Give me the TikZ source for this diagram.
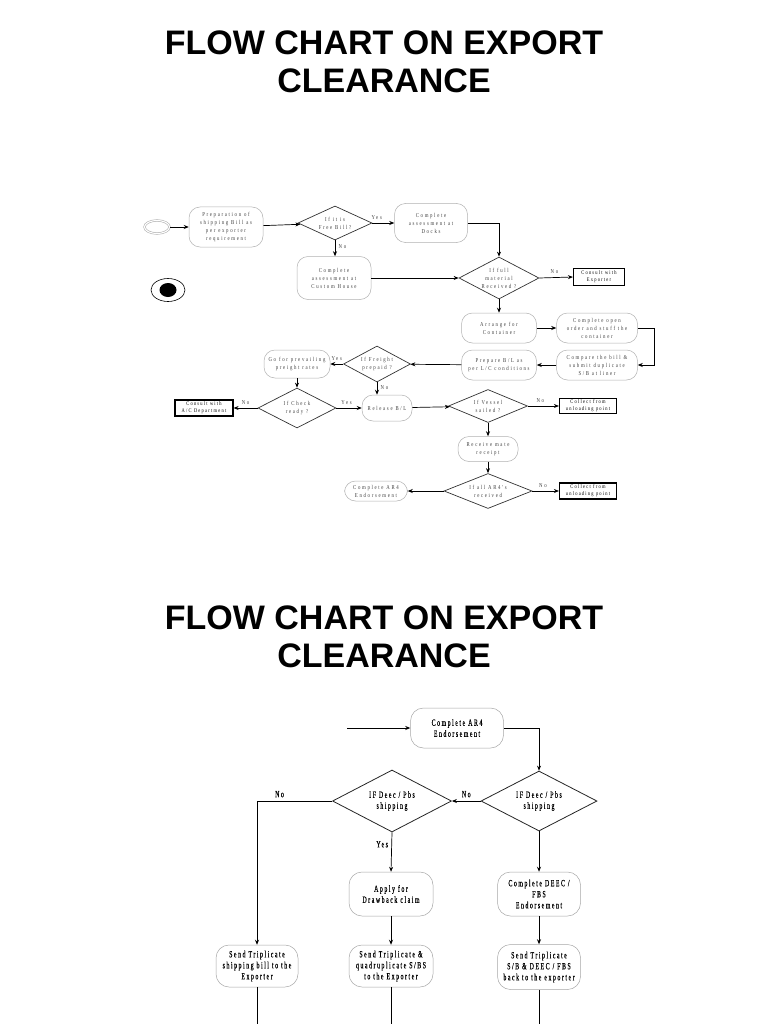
\documentclass[tikz,border=0pt]{standalone}
\usepackage{fontspec}
\setmainfont{Liberation Serif}
\newfontfamily\titlefont{Liberation Sans}
\newfontfamily\topfont[FakeStretch=0.8,LetterSpace=28]{Liberation Serif}
\newfontfamily\rectfont[FakeStretch=0.8,LetterSpace=22]{Liberation Serif}
\newfontfamily\botfont[FakeStretch=0.62,LetterSpace=16,FakeBold=0.4]{Liberation Serif}
\usetikzlibrary{shapes.geometric,arrows.meta}
\begin{document}
\begin{tikzpicture}[x=1pt,y=-1pt,
  tfont/.style={font=\topfont\fontsize{6}{8}\selectfont, text=black!75},
  rfont/.style={font=\rectfont\fontsize{5.6}{7}\selectfont, text=black},
  bfont/.style={font=\botfont\fontsize{9.5}{11}\selectfont, text=black},
  tbox/.style={tfont, draw=gray!60, line width=0.5pt, rounded corners=11pt, align=center, inner sep=0pt},
  tdia/.style={diamond, draw=black!80, line width=0.7pt, inner sep=0pt},
  tdtext/.style={tfont, align=center, inner sep=0pt},
  trect/.style={rfont, draw=black, line width=1.2pt, align=center, inner sep=0pt},
  bbox/.style={bfont, draw=gray!70, line width=0.5pt, rounded corners=13pt, align=center, inner sep=0pt},
  bdia/.style={diamond, draw=black!85, line width=0.8pt, inner sep=0pt},
  bdtext/.style={bfont, align=center, inner sep=0pt},
  arr/.style={-{Stealth[length=5pt,width=4pt]}, line width=0.7pt},
  ln/.style={line width=0.7pt},
  tlbl/.style={tfont},
  blbl/.style={bfont},
  title/.style={font=\titlefont\bfseries\fontsize{34}{38}\selectfont, align=center}]
\useasboundingbox[fill=white] (0,0) rectangle (768,1024);

% titles
\node[title] (title1) at (384,62) {FLOW CHART ON EXPORT\\CLEARANCE};
\node[title] (title2) at (384,637) {FLOW CHART ON EXPORT\\CLEARANCE};

% ---------- top chart ----------
\node[ellipse, draw=gray!70, line width=0.5pt, double, double distance=1.2pt, minimum width=25pt, minimum height=13pt, inner sep=0pt] (start) at (157,227) {};
\node[ellipse, draw=black, line width=0.6pt, minimum width=34pt, minimum height=23pt, inner sep=0pt] (endo) at (168,290) {};
\node[ellipse, fill=black, minimum width=17pt, minimum height=14pt, inner sep=0pt] (endi) at (168,290) {};

\node[tbox, minimum width=74pt, minimum height=40pt] (prep) at (226,227) {Preparation of\\shipping Bill as\\per exporter\\requirement};
\node[tdia, minimum width=74pt, minimum height=34pt, label={[tdtext]center:{If it is\\Free Bill?}}] (free) at (335,223) {};
\node[tbox, minimum width=73pt, minimum height=39pt] (docks) at (431,223) {Complete\\assessment at\\Docks};
\node[tbox, minimum width=74pt, minimum height=43pt] (custom) at (334,278) {Complete\\assessment at\\Custom House};
\node[tdia, minimum width=80pt, minimum height=42pt, label={[tdtext]center:{If full\\material\\Received ?}}] (full) at (499,278) {};
\node[trect, minimum width=51pt, minimum height=17pt] (consult) at (599,277) {Consult with\\Exporter};
\node[tbox, minimum width=75pt, minimum height=30pt] (arrange) at (499,328) {Arrange for\\Container};
\node[tbox, minimum width=81pt, minimum height=30pt] (stuff) at (597,328) {Complete open\\order and stuff the\\container};
\node[tbox, minimum width=81pt, minimum height=30pt] (compare) at (597,365) {Compare the bill \&\\submit duplicate\\S/B at liner};
\node[tbox, minimum width=75pt, minimum height=30pt] (prepare) at (499,365) {Prepare B/L as\\per L/C conditions};
\node[tdia, minimum width=67pt, minimum height=36pt, label={[tdtext]center:{If Freight\\prepaid ?}}] (freight) at (377,364) {};
\node[tbox, minimum width=66pt, minimum height=28pt] (goprev) at (297,364) {Go for prevailing\\preight rates};
\node[tdia, minimum width=78pt, minimum height=40pt, label={[tdtext]center:{If Check\\ready ?}}] (check) at (297,408) {};
\node[trect, minimum width=58pt, minimum height=16pt] (consultac) at (204,408) {Consult with\\A/C Department};
\node[tbox, minimum width=50pt, minimum height=26pt] (release) at (387,408) {Release B/L};
\node[tdia, minimum width=79pt, minimum height=33pt, label={[tdtext]center:{If Vessel\\sailed ?}}] (vessel) at (488,406) {};
\node[trect, minimum width=57pt, minimum height=15pt] (collect1) at (588,406) {Collect from\\unloading point};
\node[tbox, minimum width=60pt, minimum height=25pt] (receive) at (488,449) {Receive mate\\receipt};
\node[tdia, minimum width=88pt, minimum height=35pt, label={[tdtext]center:{If all AR4's\\received}}] (allar4) at (488,491) {};
\node[tbox, minimum width=63pt, minimum height=20pt] (compar4) at (376,491) {Complete AR4\\Endorsement};
\node[trect, minimum width=57pt, minimum height=16pt] (collect2) at (588,491) {Collect from\\unloading point};

\draw[arr] (start) -- (prep);
\draw[arr] (prep) -- (free);
\draw[arr] (free.east) -- node[tlbl, above, pos=0.2] {Yes} (docks.west);
\draw[arr] (free.south) -- node[tlbl, right, pos=0.4] {No} (free.south |- custom.north);
\draw[arr] (docks.east) -| (full.north);
\draw[arr] (custom.east) -- (full.west);
\draw[arr] (full.east) -- node[tlbl, above, pos=0.45] {No} (consult.west);
\draw[arr] (full.south) -- (arrange.north);
\draw[arr] (arrange) -- (stuff);
\draw[arr] (stuff.east) -- ++(17,0) |- (compare.east);
\draw[arr] (compare) -- (prepare);
\draw[arr] (prepare) -- (freight);
\draw[arr] (freight.west) -- node[tlbl, above, pos=0.5] {Yes} (goprev.east);
\draw[arr] (goprev.south) -- (check.north);
\draw[arr] (freight.south) -- node[tlbl, right, pos=0.4] {No} (freight.south |- release.north);
\draw[arr] (check.west) -- node[tlbl, above, pos=0.5] {No} (consultac.east);
\draw[arr] (check.east) -- node[tlbl, above, pos=0.4] {Yes} (release.west);
\draw[arr] (release) -- (vessel);
\draw[arr] (vessel.east) -- node[tlbl, above, pos=0.4] {No} (collect1.west);
\draw[arr] (vessel.south) -- (receive.north);
\draw[arr] (receive) -- (allar4);
\draw[arr] (allar4.west) -- (compar4.east);
\draw[arr] (allar4.east) -- node[tlbl, above, pos=0.4] {No} (collect2.west);

% ---------- bottom chart ----------
\coordinate (bin) at (347,728);
\node[bbox, minimum width=93pt, minimum height=40pt] (bar4) at (457,728) {Complete AR4\\Endorsement};
\node[bdia, minimum width=116pt, minimum height=60pt, label={[bdtext]center:{IF Deec / Pbs\\shipping}}] (d1) at (539,801) {};
\node[bdia, minimum width=119pt, minimum height=62pt, label={[bdtext]center:{IF Deec / Pbs\\shipping}}] (d2) at (392,801) {};
\node[bbox, minimum width=82pt, minimum height=42pt] (shipbill) at (257,966) {Send Triplicate\\shipping bill to the\\Exporter};
\node[bbox, minimum width=84pt, minimum height=44pt] (apply) at (391,894) {Apply for\\Drawback claim};
\node[bbox, minimum width=84pt, minimum height=42pt] (sendq) at (391,966) {Send Triplicate \&\\quadruplicate S/BS\\to the Exporter};
\node[bbox, minimum width=83pt, minimum height=44pt] (deec) at (539,894) {Complete DEEC /\\FBS\\Endorsement};
\node[bbox, minimum width=83pt, minimum height=45pt] (sendb) at (539,967) {Send Triplicate\\S/B \& DEEC / FBS\\back to the exporter};
\coordinate (bend) at (257,801);
\coordinate (out1) at (257,1024);
\coordinate (out2) at (391,1024);
\coordinate (out3) at (539,1024);

\draw[arr] (bin) -- (bar4.west);
\draw[arr] (bar4.east) -| (d1.north);
\draw[arr] (d1.west) -- node[blbl, above, pos=0.5] {No} (d2.east);
\draw[ln] (d2.west) -- node[blbl, above, pos=0.7] {No} (bend);
\draw[arr] (bend) -- (shipbill.north);
\draw[arr] (d2.south) -- node[blbl, left, pos=0.3] {Yes} (apply.north);
\draw[arr] (apply) -- (sendq);
\draw[ln] (sendq.south) -- (out2);
\draw[arr] (d1.south) -- (deec.north);
\draw[arr] (deec) -- (sendb);
\draw[ln] (sendb.south) -- (out3);
\draw[ln] (shipbill.south) -- (out1);
\end{tikzpicture}
\end{document}
